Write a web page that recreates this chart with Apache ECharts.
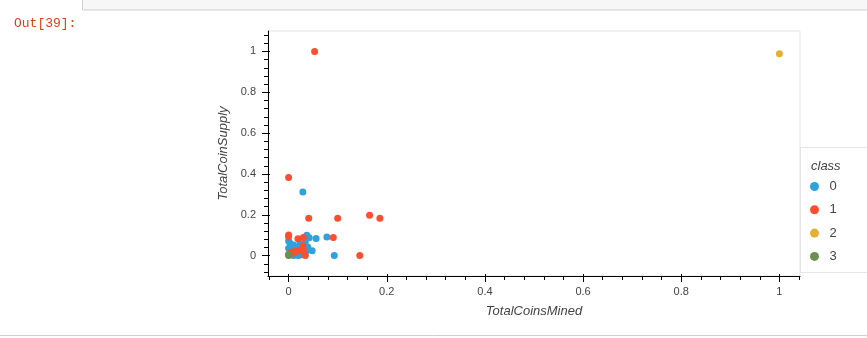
<!DOCTYPE html>
<html><head><meta charset="utf-8">
<script src="https://cdn.jsdelivr.net/npm/echarts@6/dist/echarts.min.js"></script>
<style>html,body{margin:0;padding:0;background:#fff;overflow:hidden}#c{width:867px;height:338px}</style>
</head><body><div id="c"></div>
<script>
// ---- data ----
const classNames = ['0', '1', '2', '3'];
const classColors = ['#30a2da', '#fc4f30', '#e5ae38', '#6d904f'];
const class0Mined = [0.029, 0.037, 0.042, 0.056, 0.078, 0.093, 0.048, 0.000, 0.003, 0.006, 0.010, 0.017, 0.022, 0.027, 0.019, 0.010, 0.030, 0.039, 0.034, 0.023, 0.000, 0.005, 0.014, 0.024, 0.035];
const class0Supply = [0.312, 0.099, 0.087, 0.084, 0.091, 0.000, 0.024, 0.072, 0.060, 0.045, 0.052, 0.036, 0.027, 0.011, 0.000, 0.000, 0.008, 0.042, 0.066, 0.058, 0.036, 0.012, 0.006, 0.003, 0.020];
const class1Mined = [0.053, 0.000, 0.041, 0.100, 0.165, 0.186, 0.091, 0.145, 0.000, 0.000, 0.019, 0.030, 0.029, 0.034, 0.003, 0.007, 0.013, 0.020, 0.025, 0.030, 0.002, 0.010, 0.016];
const class1Supply = [1.000, 0.382, 0.183, 0.183, 0.198, 0.183, 0.089, 0.000, 0.101, 0.092, 0.082, 0.088, 0.048, 0.000, 0.011, 0.017, 0.020, 0.024, 0.026, 0.027, 0.005, 0.014, 0.022];
const class2Mined = [1.000];
const class2Supply = [0.989];
const class3Mined = [0.000, 0.001, 0.000];
const class3Supply = [0.000, 0.003, 0.006];
const xMajorTicks = [0, 0.2, 0.4, 0.6, 0.8, 1];
const xMinorTicks = [-0.04, 0.04, 0.08, 0.12, 0.16, 0.24, 0.28, 0.32, 0.36, 0.44, 0.48, 0.52, 0.56, 0.64, 0.68, 0.72, 0.76, 0.84, 0.88, 0.92, 0.96, 1.04];
const yMajorTicks = [0, 0.2, 0.4, 0.6, 0.8, 1];
const yMinorTicks = [-0.08, -0.04, 0.04, 0.08, 0.12, 0.16, 0.24, 0.28, 0.32, 0.36, 0.44, 0.48, 0.52, 0.56, 0.64, 0.68, 0.72, 0.76, 0.84, 0.88, 0.92, 0.96, 1.04, 1.08];
const xRange = [-0.042, 1.042];
const yRange = [-0.1, 1.1];
const xTitle = 'TotalCoinsMined';
const yTitle = 'TotalCoinSupply';
const legendTitle = 'class';
const promptText = 'Out[39]:';

// ---- build ----
const allX = [class0Mined, class1Mined, class2Mined, class3Mined];
const allY = [class0Supply, class1Supply, class2Supply, class3Supply];
const FONT = '"Liberation Sans", Arial, Helvetica, sans-serif';
const fmt = v => String(+(+v).toFixed(2));

function mkAxis(isX, kind) {
  const range = isX ? xRange : yRange;
  const majors = isX ? xMajorTicks : yMajorTicks;
  const minors = isX ? xMinorTicks : yMinorTicks;
  const a = {
    type: 'value', min: range[0], max: range[1], gridIndex: 0,
    position: isX ? 'bottom' : 'left',
    splitLine: { show: false },
    axisLine: { show: kind === 'main', onZero: false, lineStyle: { color: '#000', width: 1 } },
    axisLabel: { show: false },
    axisTick: { show: true, lineStyle: { color: '#000', width: 1 } }
  };
  if (kind === 'main') {
    a.axisTick.customValues = majors; a.axisTick.length = 6; a.axisTick.inside = false;
    a.axisLabel = { show: true, customValues: majors, formatter: fmt, color: '#444', fontSize: 11, fontFamily: FONT, margin: isX ? 10 : 12 };
    a.name = isX ? xTitle : yTitle;
    a.nameLocation = 'middle';
    a.nameGap = isX ? 29 : 33;
    a.nameTextStyle = { fontStyle: 'italic', fontSize: 13, color: '#444', fontFamily: FONT };
  } else if (kind === 'in') {
    a.axisTick.customValues = majors; a.axisTick.length = 2; a.axisTick.inside = true;
  } else {
    a.axisTick.customValues = minors; a.axisTick.length = 4; a.axisTick.inside = false;
  }
  return a;
}

const series = classNames.map((n, i) => ({
  name: n, type: 'scatter', xAxisIndex: 0, yAxisIndex: 0,
  symbol: 'circle', symbolSize: 7,
  itemStyle: { color: classColors[i], opacity: 1 },
  emphasis: { disabled: true },
  data: allX[i].map((x, j) => [x, allY[i][j]])
}));

const chart = echarts.init(document.getElementById('c'), null, { renderer: 'canvas' });
chart.setOption({
  animation: false,
  backgroundColor: '#fff',
  color: classColors,
  grid: { left: 268, top: 31, width: 532, height: 245, show: true, borderColor: '#e5e5e5', borderWidth: 1, backgroundColor: 'transparent' },
  xAxis: [mkAxis(true, 'main'), mkAxis(true, 'in'), mkAxis(true, 'minor')],
  yAxis: [mkAxis(false, 'main'), mkAxis(false, 'in'), mkAxis(false, 'minor')],
  legend: {
    data: classNames, orient: 'vertical', left: 810, top: 180,
    itemWidth: 20, itemHeight: 9, itemGap: 10.3, icon: 'circle',
    selectedMode: false, padding: 0,
    textStyle: { fontSize: 13, color: '#444', fontFamily: FONT }
  },
  graphic: [
    { type: 'rect', z: -1, shape: { x: 82.5, y: -2, width: 800, height: 12 }, style: { fill: '#f7f7f7', stroke: '#cfcfcf', lineWidth: 1 } },
    { type: 'text', x: 14, y: 24, style: { text: promptText, fill: '#d84315', font: '13px "Liberation Mono", "DejaVu Sans Mono", monospace', verticalAlign: 'middle' } },
    { type: 'line', shape: { x1: 0, y1: 335.5, x2: 867, y2: 335.5 }, style: { stroke: '#cfcfcf', lineWidth: 1 } },
    { type: 'rect', z: -1, shape: { x: 800.5, y: 147.5, width: 80, height: 125 }, style: { fill: '#fff', stroke: '#e5e5e5', lineWidth: 1 } },
    { type: 'text', x: 811, y: 166, style: { text: legendTitle, fill: '#444', font: 'italic 13px ' + FONT, verticalAlign: 'middle' } }
  ],
  series: series
});
</script></body></html>
